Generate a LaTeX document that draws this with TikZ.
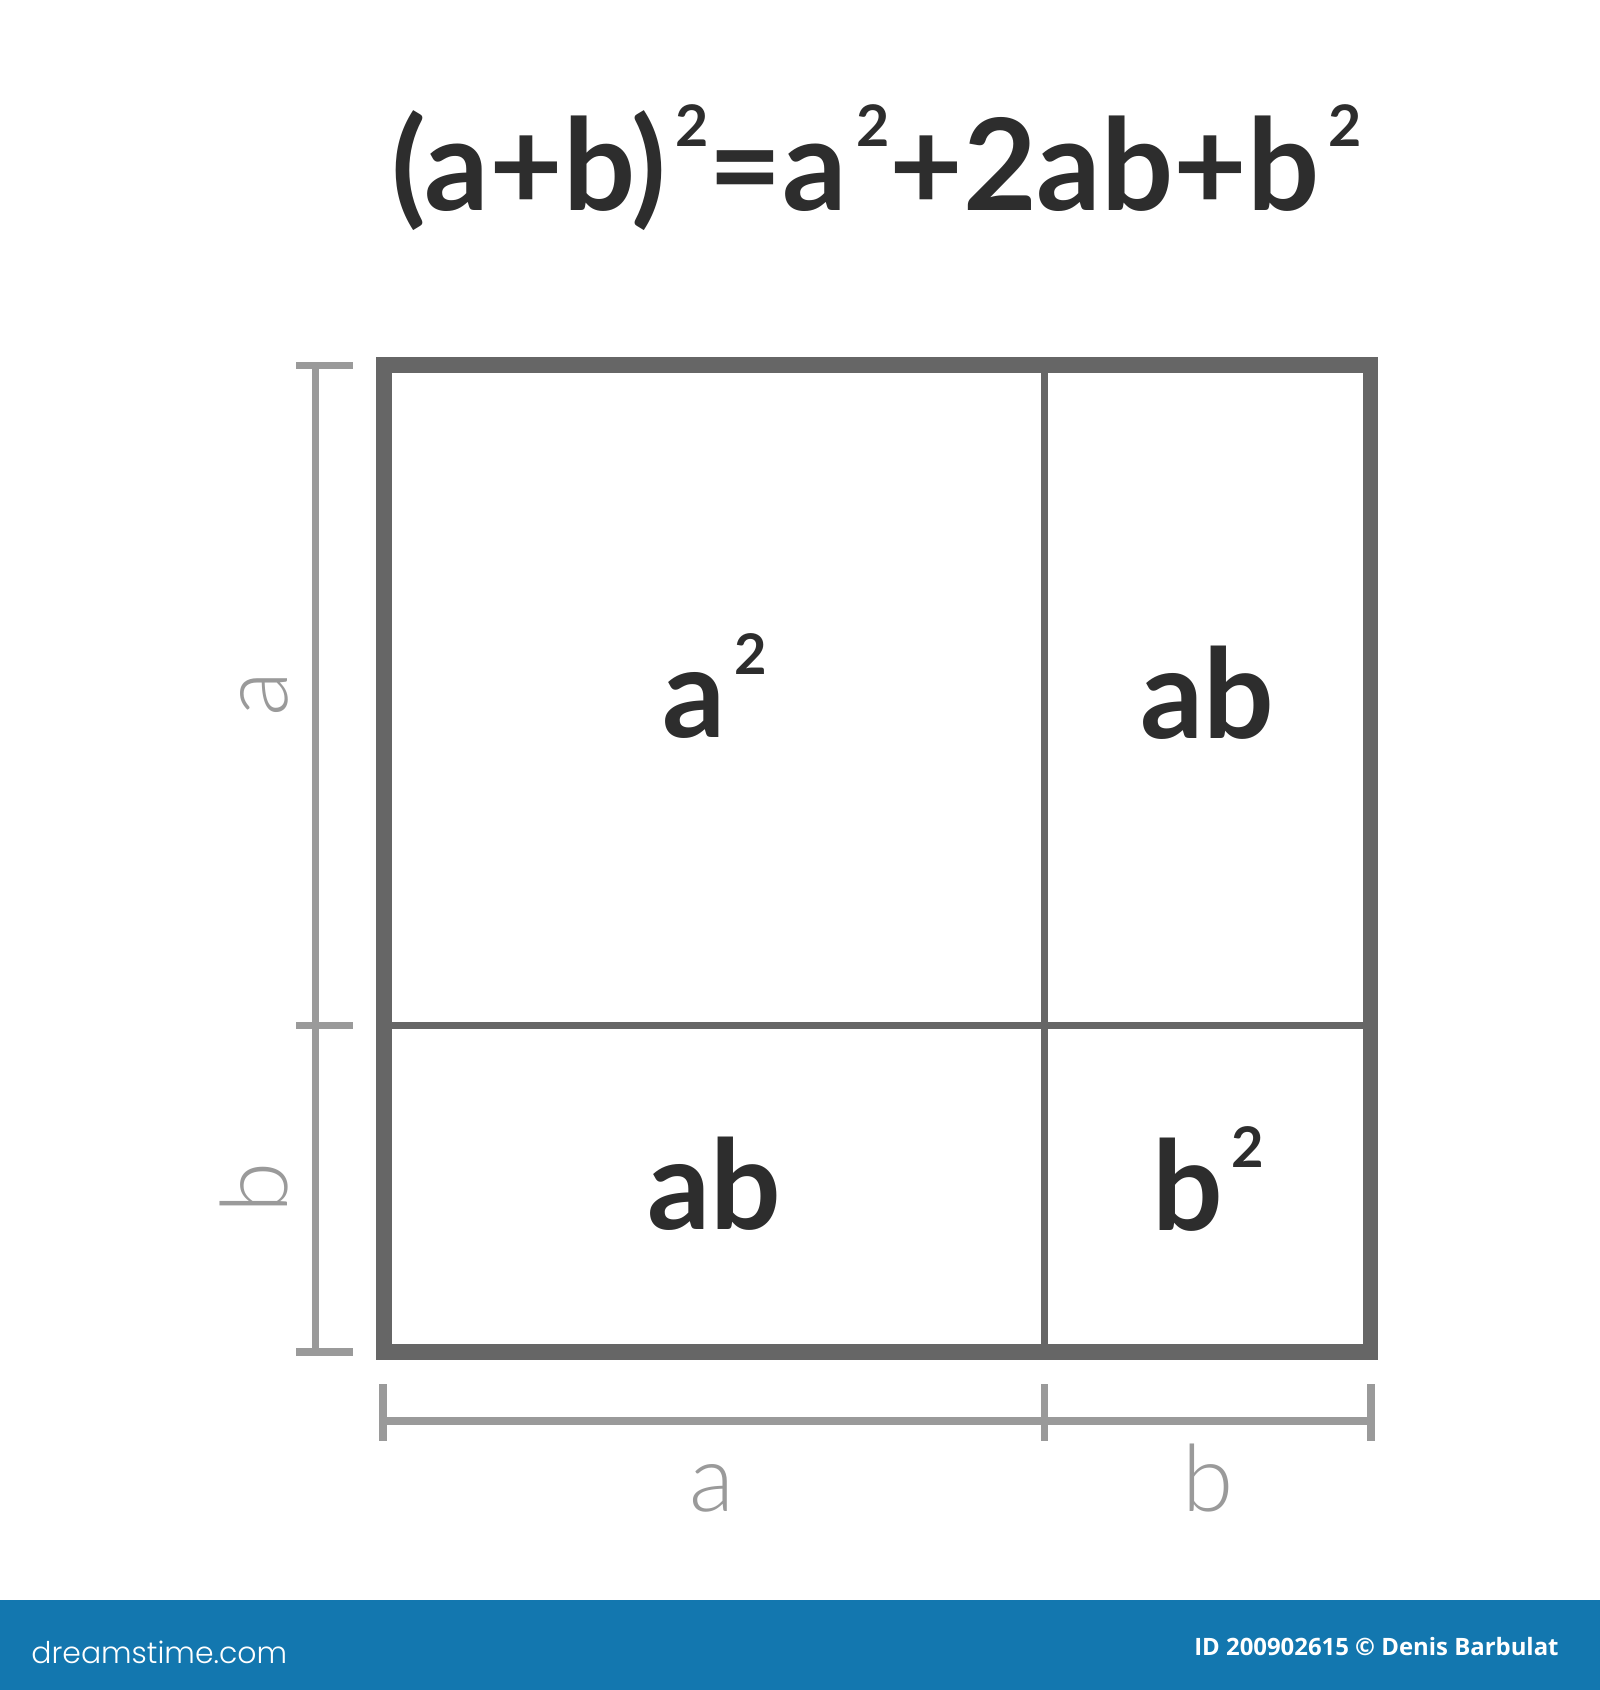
\documentclass[tikz,border=0pt]{standalone}
\usepackage{fontspec}
\usepackage{graphicx}
\newfontfamily\boldsans{Lato Bold}
\newfontfamily\lightsans{Lato Light}
\newfontfamily\logofont{Poppins Light}
\newfontfamily\creditfont{Open Sans}
\definecolor{ink}{HTML}{2D2D2D}
\definecolor{frame}{HTML}{666666}
\definecolor{dimline}{HTML}{9A9A9A}
\definecolor{bar}{HTML}{1377AF}
\newcommand{\sqd}{\hspace{0.07em}\raisebox{0.5em}{\scalebox{0.45}{2}}}

\begin{document}
\begin{tikzpicture}[x=0.01cm,y=-0.01cm,
    box/.style={draw=frame,line width=4.3pt},
    split/.style={draw=frame,line width=2.2pt},
    measure/.style={draw=dimline,line width=2.1pt},
    term/.style={text=ink,font=\boldsans\fontsize{35.4}{40}\selectfont,inner sep=0pt,anchor=base},
    side/.style={text=dimline,font=\lightsans\fontsize{26.4}{30}\selectfont,inner sep=0pt,anchor=base}]
            \useasboundingbox (0,0) rectangle (1600,1690);
            \fill[white] (0,0) rectangle (1600,1690);
            \coordinate (nw) at (384,365);
            \coordinate (se) at (1370.5,1352);
            \coordinate (cut) at (1044.5,1025.5);
            \draw[box](nw)rectangle(se);
            \draw[split](cut|-nw)--(cut|-se);
            \draw[split](cut-|nw)--(cut-|se);

            \draw[measure](315.5,365.5)--(315.5,1352);
            \draw[measure](296,365.5)--(353,365.5) (296,1025.5)--(353,1025.5) (296,1352)--(353,1352);
            \draw[measure](383,1421)--(1371,1421);
            \draw[measure](383,1384)--(383,1441) (1044.5,1384)--(1044.5,1441) (1371,1384)--(1371,1441);

            \node[term,font=\boldsans\fontsize{36.2}{40}\selectfont] (title) at (877,210) {(a+b)\sqd=a\sqd+2ab+b\sqd};
            \node[term] (asq) at (715,737) {a\sqd};
            \node[term] (abtop) at (1207,738) {ab};
            \node[term] (abbot) at (714,1229) {ab};
            \node[term] (bsq) at (1208,1230) {b\sqd};

            \node[side,rotate=90] (lefta) at (287,694) {a};
            \node[side,rotate=90] (leftb) at (287,1188) {b};
            \node[side] (bota) at (712,1511) {a};
            \node[side] (botb) at (1208,1511) {b};

            \fill[bar] (0,1600) rectangle (1600,1690);
            \node[anchor=west,text=white,font=\logofont\fontsize{8.5}{10}\selectfont] (logo) at (19,1652) {dreamstime.com};
            \node[anchor=east,text=white,font=\creditfont\bfseries\fontsize{6.8}{8}\selectfont] (credit) at (1571,1647) {ID 200902615 \textcopyright{} Denis Barbulat};
        \end{tikzpicture}
\end{document}
